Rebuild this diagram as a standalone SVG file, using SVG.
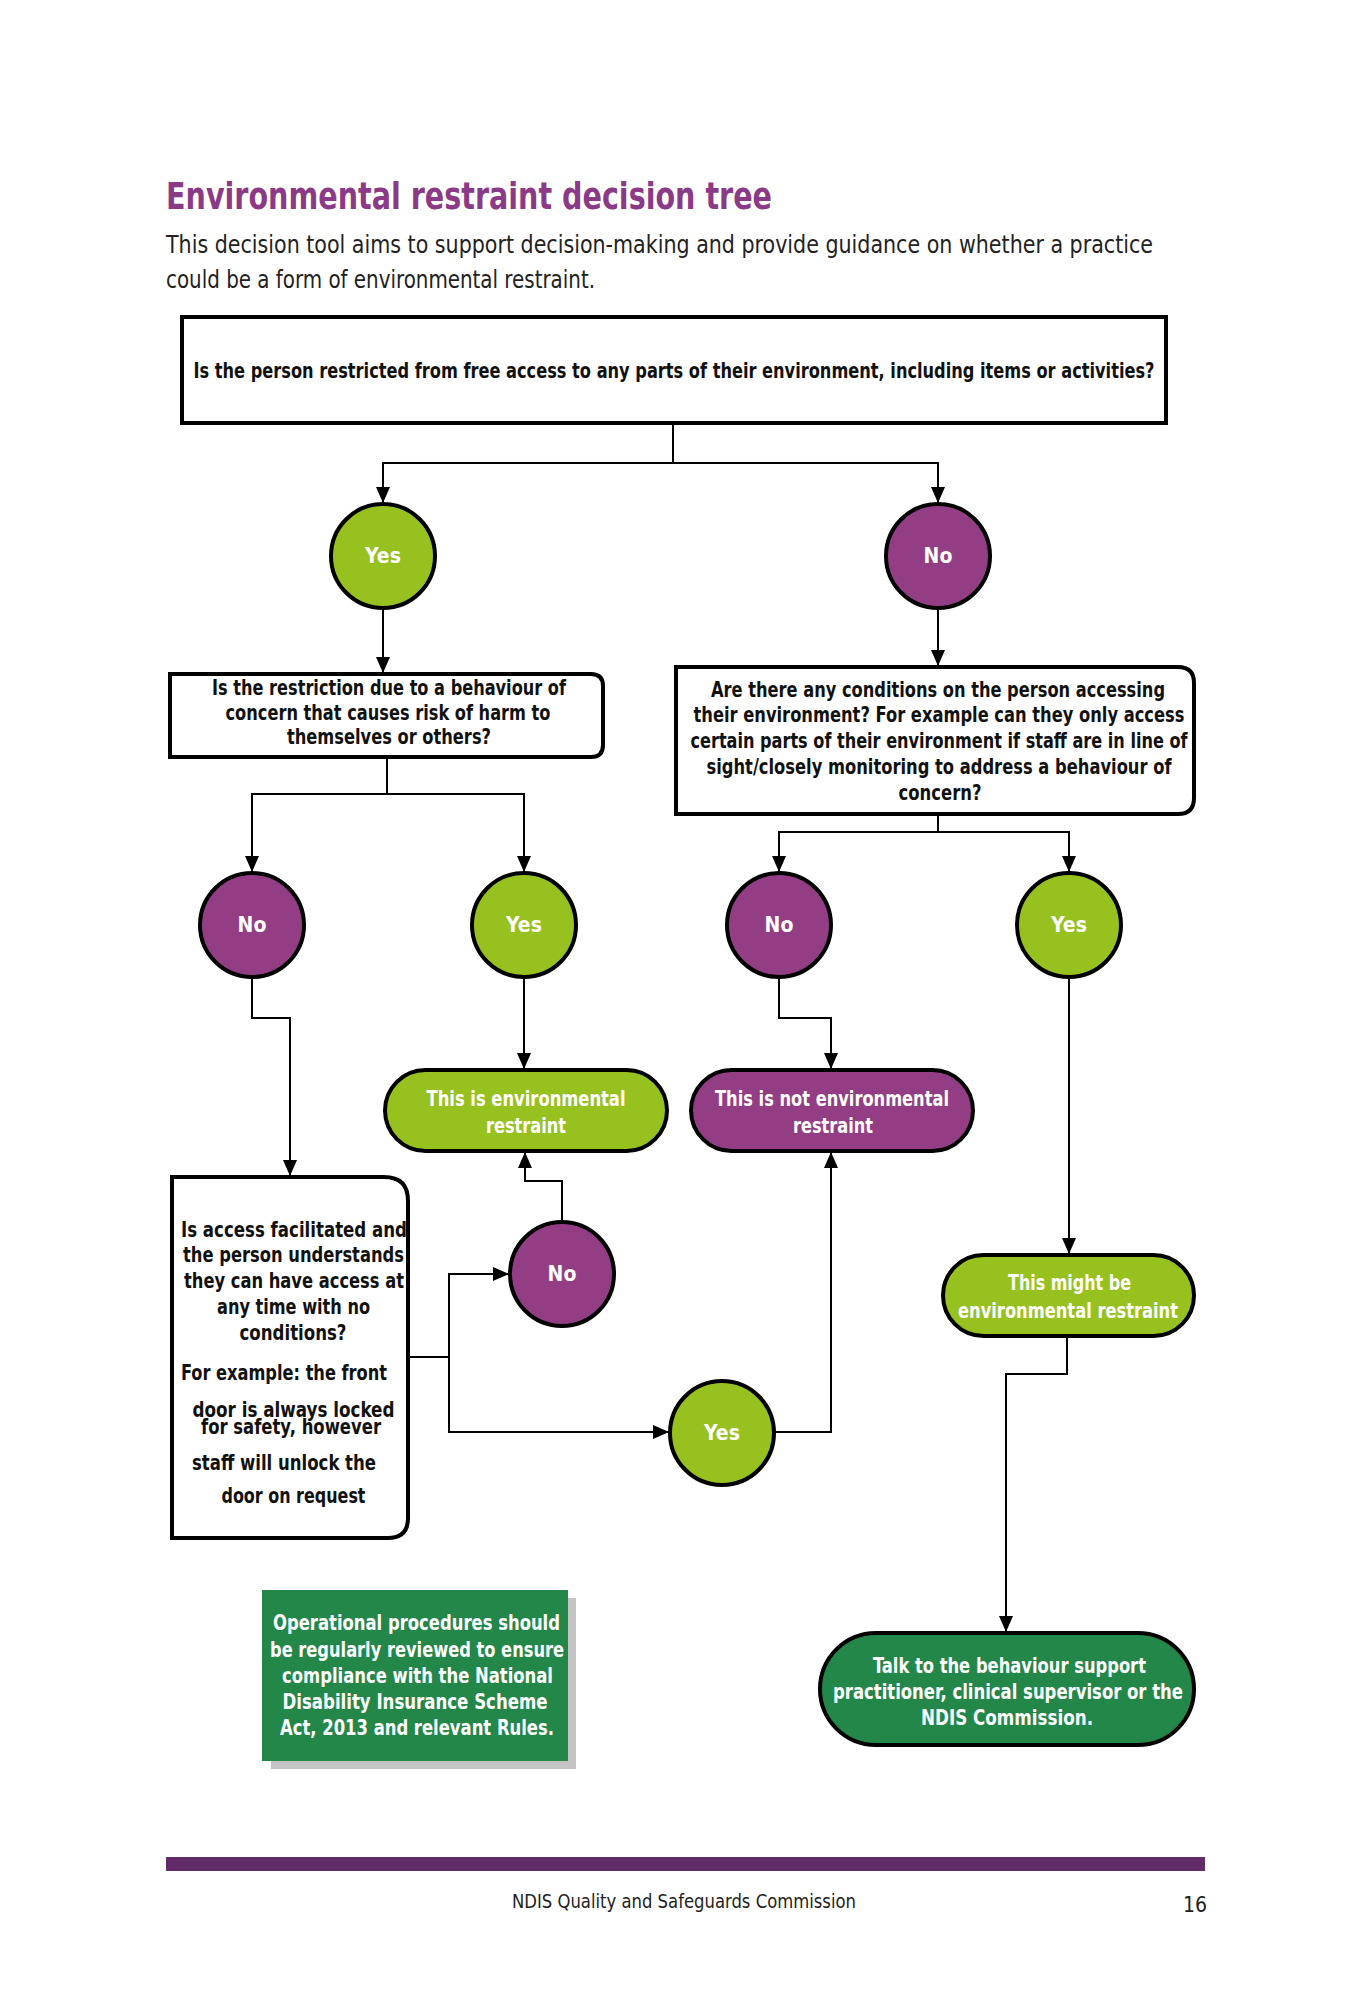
<svg xmlns="http://www.w3.org/2000/svg" width="1372" height="2000" viewBox="0 0 1372 2000">
<defs>
<marker id="arr" viewBox="0 0 16 14" refX="16" refY="7" markerWidth="16" markerHeight="14" markerUnits="userSpaceOnUse" orient="auto">
<path d="M0,0 L16,7 L0,14 Z" fill="#000"/>
</marker>
<style>
.t{font-family:"Liberation Sans Narrow","DejaVu Sans Condensed","Liberation Sans",sans-serif;}
.b{font-weight:bold;font-size:21px;fill:#111;text-anchor:middle;}
.w{font-weight:bold;font-size:21px;fill:#fff;text-anchor:middle;}
.box{fill:#fff;stroke:#000;stroke-width:4;}
.lime{fill:#97c11f;stroke:#000;stroke-width:4;}
.purp{fill:#933d85;stroke:#000;stroke-width:4;}
.dg{fill:#228749;stroke:#000;stroke-width:4;}
.c{fill:none;stroke:#000;stroke-width:2;}
</style>
</defs>
<rect width="1372" height="2000" fill="#fff"/>
<g id="header" class="t">
<text x="166" y="209" font-size="38" font-weight="bold" fill="#8b3a87" textLength="606" lengthAdjust="spacingAndGlyphs">Environmental restraint decision tree</text>
<text x="166" y="253" font-size="24" fill="#222" textLength="987" lengthAdjust="spacingAndGlyphs">This decision tool aims to support decision-making and provide guidance on whether a practice</text>
<text x="166" y="288" font-size="24" fill="#222" textLength="429" lengthAdjust="spacingAndGlyphs">could be a form of environmental restraint.</text>
</g>
<g id="connectors">
<path class="c" d="M673,423 V463 H383 V503" marker-end="url(#arr)"/>
<path class="c" d="M673,463 H938 V503" marker-end="url(#arr)"/>
<path class="c" d="M383,608 V673" marker-end="url(#arr)"/>
<path class="c" d="M938,608 V666" marker-end="url(#arr)"/>
<path class="c" d="M387,757 V794 H252 V872" marker-end="url(#arr)"/>
<path class="c" d="M387,794 H524 V872" marker-end="url(#arr)"/>
<path class="c" d="M938,814 V832 H779 V872" marker-end="url(#arr)"/>
<path class="c" d="M938,832 H1069 V872" marker-end="url(#arr)"/>
<path class="c" d="M252,977 V1018 H290 V1176" marker-end="url(#arr)"/>
<path class="c" d="M524,977 V1069" marker-end="url(#arr)"/>
<path class="c" d="M779,977 V1018 H831 V1069" marker-end="url(#arr)"/>
<path class="c" d="M1069,977 V1254" marker-end="url(#arr)"/>
<path class="c" d="M1067,1336 V1374 H1006 V1632" marker-end="url(#arr)"/>
<path class="c" d="M408,1357 H449 V1274 H509" marker-end="url(#arr)"/>
<path class="c" d="M449,1357 V1432 H669" marker-end="url(#arr)"/>
<path class="c" d="M562,1222 V1181 H525 V1152" marker-end="url(#arr)"/>
<path class="c" d="M774,1432 H831 V1152" marker-end="url(#arr)"/>
</g>
<g id="q1" class="t">
<rect class="box" x="182" y="317" width="984" height="106"/>
<text class="b" x="674" y="378" textLength="961" lengthAdjust="spacingAndGlyphs">Is the person restricted from free access to any parts of their environment, including items or activities?</text>
</g>
<g id="yes1" class="t">
<circle class="lime" cx="383" cy="556" r="52"/>
<text class="w" x="383" y="563">Yes</text>
</g>
<g id="no1" class="t">
<circle class="purp" cx="938" cy="556" r="52"/>
<text class="w" x="938" y="563">No</text>
</g>
<g id="q2" class="t">
<path class="box" d="M170,674 H591 Q603,674 603,686 V745 Q603,757 591,757 H170 Z"/>
<text class="b" x="389" y="695" textLength="354" lengthAdjust="spacingAndGlyphs">Is the restriction due to a behaviour of</text>
<text class="b" x="388" y="720" textLength="325" lengthAdjust="spacingAndGlyphs">concern that causes risk of harm to</text>
<text class="b" x="389" y="744" textLength="204" lengthAdjust="spacingAndGlyphs">themselves or others?</text>
</g>
<g id="q3" class="t">
<path class="box" d="M676,667 H1178 Q1194,667 1194,683 V798 Q1194,814 1178,814 H676 Z"/>
<text class="b" x="938" y="697" textLength="454" lengthAdjust="spacingAndGlyphs">Are there any conditions on the person accessing</text>
<text class="b" x="939" y="722" textLength="491" lengthAdjust="spacingAndGlyphs">their environment? For example can they only access</text>
<text class="b" x="939" y="748" textLength="497" lengthAdjust="spacingAndGlyphs">certain parts of their environment if staff are in line of</text>
<text class="b" x="939" y="774" textLength="465" lengthAdjust="spacingAndGlyphs">sight/closely monitoring to address a behaviour of</text>
<text class="b" x="940" y="800" textLength="83" lengthAdjust="spacingAndGlyphs">concern?</text>
</g>
<g id="no2" class="t">
<circle class="purp" cx="252" cy="925" r="52"/>
<text class="w" x="252" y="932">No</text>
</g>
<g id="yes2" class="t">
<circle class="lime" cx="524" cy="925" r="52"/>
<text class="w" x="524" y="932">Yes</text>
</g>
<g id="no3" class="t">
<circle class="purp" cx="779" cy="925" r="52"/>
<text class="w" x="779" y="932">No</text>
</g>
<g id="yes3" class="t">
<circle class="lime" cx="1069" cy="925" r="52"/>
<text class="w" x="1069" y="932">Yes</text>
</g>
<g id="is-er" class="t">
<rect class="lime" x="385" y="1070" width="282" height="81" rx="40.5"/>
<text class="w" x="526" y="1106" textLength="199" lengthAdjust="spacingAndGlyphs">This is environmental</text>
<text class="w" x="526" y="1133" textLength="80" lengthAdjust="spacingAndGlyphs">restraint</text>
</g>
<g id="not-er" class="t">
<rect class="purp" x="691" y="1070" width="282" height="81" rx="40.5"/>
<text class="w" x="832" y="1106" textLength="234" lengthAdjust="spacingAndGlyphs">This is not environmental</text>
<text class="w" x="833" y="1133" textLength="80" lengthAdjust="spacingAndGlyphs">restraint</text>
</g>
<g id="q4" class="t">
<path class="box" d="M172,1177 H384 Q408,1177 408,1201 V1518 Q408,1538 388,1538 H172 Z"/>
<text class="b" x="294" y="1237" textLength="226" lengthAdjust="spacingAndGlyphs">Is access facilitated and</text>
<text class="b" x="293.5" y="1262" textLength="221" lengthAdjust="spacingAndGlyphs">the person understands</text>
<text class="b" x="294" y="1288" textLength="220" lengthAdjust="spacingAndGlyphs">they can have access at</text>
<text class="b" x="293.5" y="1314" textLength="153" lengthAdjust="spacingAndGlyphs">any time with no</text>
<text class="b" x="293" y="1340" textLength="107" lengthAdjust="spacingAndGlyphs">conditions?</text>
<text class="b" x="284" y="1380" textLength="206" lengthAdjust="spacingAndGlyphs">For example: the front</text>
<text class="b" x="293.5" y="1417" textLength="202" lengthAdjust="spacingAndGlyphs">door is always locked</text>
<text class="b" x="291" y="1434" textLength="180" lengthAdjust="spacingAndGlyphs">for safety, however</text>
<text class="b" x="284" y="1470" textLength="184" lengthAdjust="spacingAndGlyphs">staff will unlock the</text>
<text class="b" x="293.5" y="1503" textLength="144" lengthAdjust="spacingAndGlyphs">door on request</text>
</g>
<g id="no4" class="t">
<circle class="purp" cx="562" cy="1274" r="52"/>
<text class="w" x="562" y="1281">No</text>
</g>
<g id="yes4" class="t">
<circle class="lime" cx="722" cy="1433" r="52"/>
<text class="w" x="722" y="1440">Yes</text>
</g>
<g id="might-er" class="t">
<rect class="lime" x="943" y="1255" width="251" height="81" rx="40.5"/>
<text class="w" x="1069.5" y="1290" textLength="123" lengthAdjust="spacingAndGlyphs">This might be</text>
<text class="w" x="1068" y="1318" textLength="220" lengthAdjust="spacingAndGlyphs">environmental restraint</text>
</g>
<g id="talk" class="t">
<rect class="dg" x="820" y="1633" width="374" height="112" rx="56"/>
<text class="w" x="1009.5" y="1673" textLength="273" lengthAdjust="spacingAndGlyphs">Talk to the behaviour support</text>
<text class="w" x="1008" y="1699" textLength="350" lengthAdjust="spacingAndGlyphs">practitioner, clinical supervisor or the</text>
<text class="w" x="1007" y="1725" textLength="172" lengthAdjust="spacingAndGlyphs">NDIS Commission.</text>
</g>
<g id="note" class="t">
<rect x="271" y="1598" width="305" height="171" fill="#c4c4c4"/>
<rect x="262" y="1590" width="306" height="171" fill="#228749"/>
<text class="w" x="416.5" y="1630" textLength="287" lengthAdjust="spacingAndGlyphs">Operational procedures should</text>
<text class="w" x="417" y="1657" textLength="294" lengthAdjust="spacingAndGlyphs">be regularly reviewed to ensure</text>
<text class="w" x="417.5" y="1683" textLength="271" lengthAdjust="spacingAndGlyphs">compliance with the National</text>
<text class="w" x="415" y="1709" textLength="265" lengthAdjust="spacingAndGlyphs">Disability Insurance Scheme</text>
<text class="w" x="417" y="1735" textLength="274" lengthAdjust="spacingAndGlyphs">Act, 2013 and relevant Rules.</text>
</g>
<g id="footer" class="t">
<rect x="166" y="1857" width="1039" height="14" fill="#612c67"/>
<text x="684" y="1908" font-size="19" fill="#222" text-anchor="middle" textLength="344" lengthAdjust="spacingAndGlyphs">NDIS Quality and Safeguards Commission</text>
<text x="1207" y="1912" font-size="21" fill="#222" text-anchor="end">16</text>
</g>
</svg>
